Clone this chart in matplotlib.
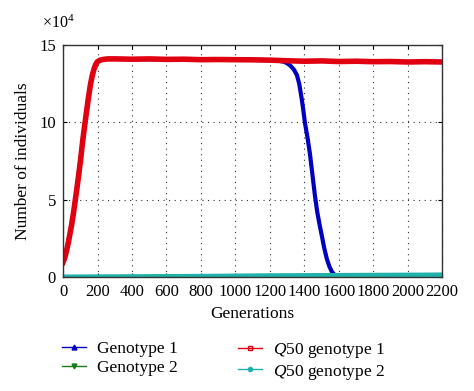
import matplotlib
matplotlib.use("Agg")
import matplotlib.pyplot as plt
from matplotlib.lines import Line2D

# Data (values in units of 1e4 individuals)
red_gen = [0, 10, 20, 30, 40, 50, 60, 70, 80, 93, 105, 115, 128, 140, 150, 160, 170,
           180, 190, 200, 215, 235, 260, 300, 400, 500, 600, 700, 800, 900, 1000,
           1100, 1200, 1300, 1400, 1500, 1600, 1700, 1800, 1900, 2000, 2100, 2200]
red_val = [0.97, 1.25, 1.7, 2.2, 2.8, 3.4, 4.1, 4.9, 5.7, 6.8, 7.9, 8.9, 10.0, 11.0, 11.8,
           12.5, 13.05, 13.45, 13.75, 13.92, 14.02, 14.07, 14.1, 14.1, 14.08, 14.1, 14.07,
           14.08, 14.05, 14.06, 14.05, 14.04, 14.02, 13.98, 13.95, 13.97, 13.93, 13.95,
           13.92, 13.93, 13.9, 13.92, 13.9]

blue_gen = [0, 10, 20, 30, 40, 50, 60, 70, 80, 93, 105, 115, 128, 140, 150, 160, 170,
            180, 190, 200, 215, 235, 260, 300, 400, 600, 800, 1000, 1200, 1250, 1280,
            1300, 1320, 1340, 1357, 1370, 1385, 1395, 1403, 1420, 1432, 1445, 1461, 1475,
            1490, 1501, 1515, 1530, 1545, 1560, 1575, 1590, 1610, 1800, 2000, 2200]
blue_val = [0.97, 1.25, 1.7, 2.2, 2.8, 3.4, 4.1, 4.9, 5.7, 6.8, 7.9, 8.9, 10.0, 11.0, 11.8,
            12.5, 13.05, 13.45, 13.75, 13.92, 14.02, 14.07, 14.1, 14.1, 14.08, 14.07, 14.05,
            14.05, 14.02, 13.98, 13.92, 13.82, 13.65, 13.4, 13.05, 12.5, 11.5, 10.7, 10.0,
            8.9, 8.0, 6.8, 5.3, 4.2, 3.3, 2.7, 1.9, 1.2, 0.7, 0.35, 0.15, 0.05, 0.0, 0.0,
            0.0, 0.0]

green_gen = [0, 400, 800, 1000, 1200, 1600, 2000, 2200]
green_val = [0.0, 0.01, 0.03, 0.05, 0.06, 0.08, 0.1, 0.1]

cyan_gen = [0, 400, 800, 1000, 1200, 1600, 2000, 2200]
cyan_val = [0.02, 0.04, 0.06, 0.08, 0.1, 0.12, 0.14, 0.15]

xticks = [0, 200, 400, 600, 800, 1000, 1200, 1400, 1600, 1800, 2000, 2200]
yticks = [0, 5, 10, 15]
labels = ["Genotype 1", "Genotype 2", "$\\mathit{Q}$50 genotype 1", "$\\mathit{Q}$50 genotype 2"]

plt.rcParams['font.family'] = ['Liberation Serif', 'DejaVu Serif']
plt.rcParams['mathtext.fontset'] = 'custom'
plt.rcParams['mathtext.it'] = 'Liberation Serif:italic'
plt.rcParams['mathtext.rm'] = 'Liberation Serif'

c_blue = '#0000c0'
c_green = '#1a7a1a'
c_red = '#e00010'
c_cyan = '#20b2aa'

fig = plt.figure(figsize=(4.74, 3.91), dpi=100)
ax = fig.add_axes([0.133, 0.291, 0.800, 0.594])

ax.plot(blue_gen, blue_val, color=c_blue, lw=3.0, zorder=2)
ax.plot(red_gen, red_val, color=c_red, lw=4.0, zorder=3)
ax.plot(green_gen, green_val, color=c_green, lw=3.0, zorder=4)
ax.plot(cyan_gen, cyan_val, color=c_cyan, lw=3.5, zorder=5)

ax.set_xlim(0, 2200)
ax.set_ylim(0, 15)
ax.set_xticks(xticks)
ax.set_yticks(yticks)
ax.tick_params(direction='in', top=True, right=True, labelsize=12, length=3, pad=5)
ax.grid(True, color='#333333', linestyle=(0, (1, 4)), linewidth=0.8)
for s in ax.spines.values():
    s.set_linewidth(1.0)
    s.set_color('#333333')
    s.set_zorder(6)

ax.set_xlabel("Generations", fontsize=12.5, labelpad=4)
ax.set_ylabel("Number of individuals", fontsize=12.5, labelpad=6)
fig.text(0.088, 0.928, "$\\times$10$^4$", fontsize=11.5, ha='left', va='baseline')

h_left = [
    Line2D([], [], color=c_blue, marker='^', markersize=3.5, lw=1),
    Line2D([], [], color=c_green, marker='v', markersize=3.5, lw=1),
]
h_right = [
    Line2D([], [], color=c_red, marker='s', markersize=3.5, markerfacecolor='none', lw=1),
    Line2D([], [], color=c_cyan, marker='o', markersize=3, lw=1),
]
kw = dict(loc='upper left', frameon=False, fontsize=12.5, handlelength=1.4,
          labelspacing=0.15, handletextpad=0.6, borderpad=0, borderaxespad=0)
leg1 = fig.legend(h_left, labels[:2], bbox_to_anchor=(0.131, 0.128), **kw)
leg2 = fig.legend(h_right, labels[2:], bbox_to_anchor=(0.502, 0.128), **kw)

fig.savefig("out.png", dpi=100)
